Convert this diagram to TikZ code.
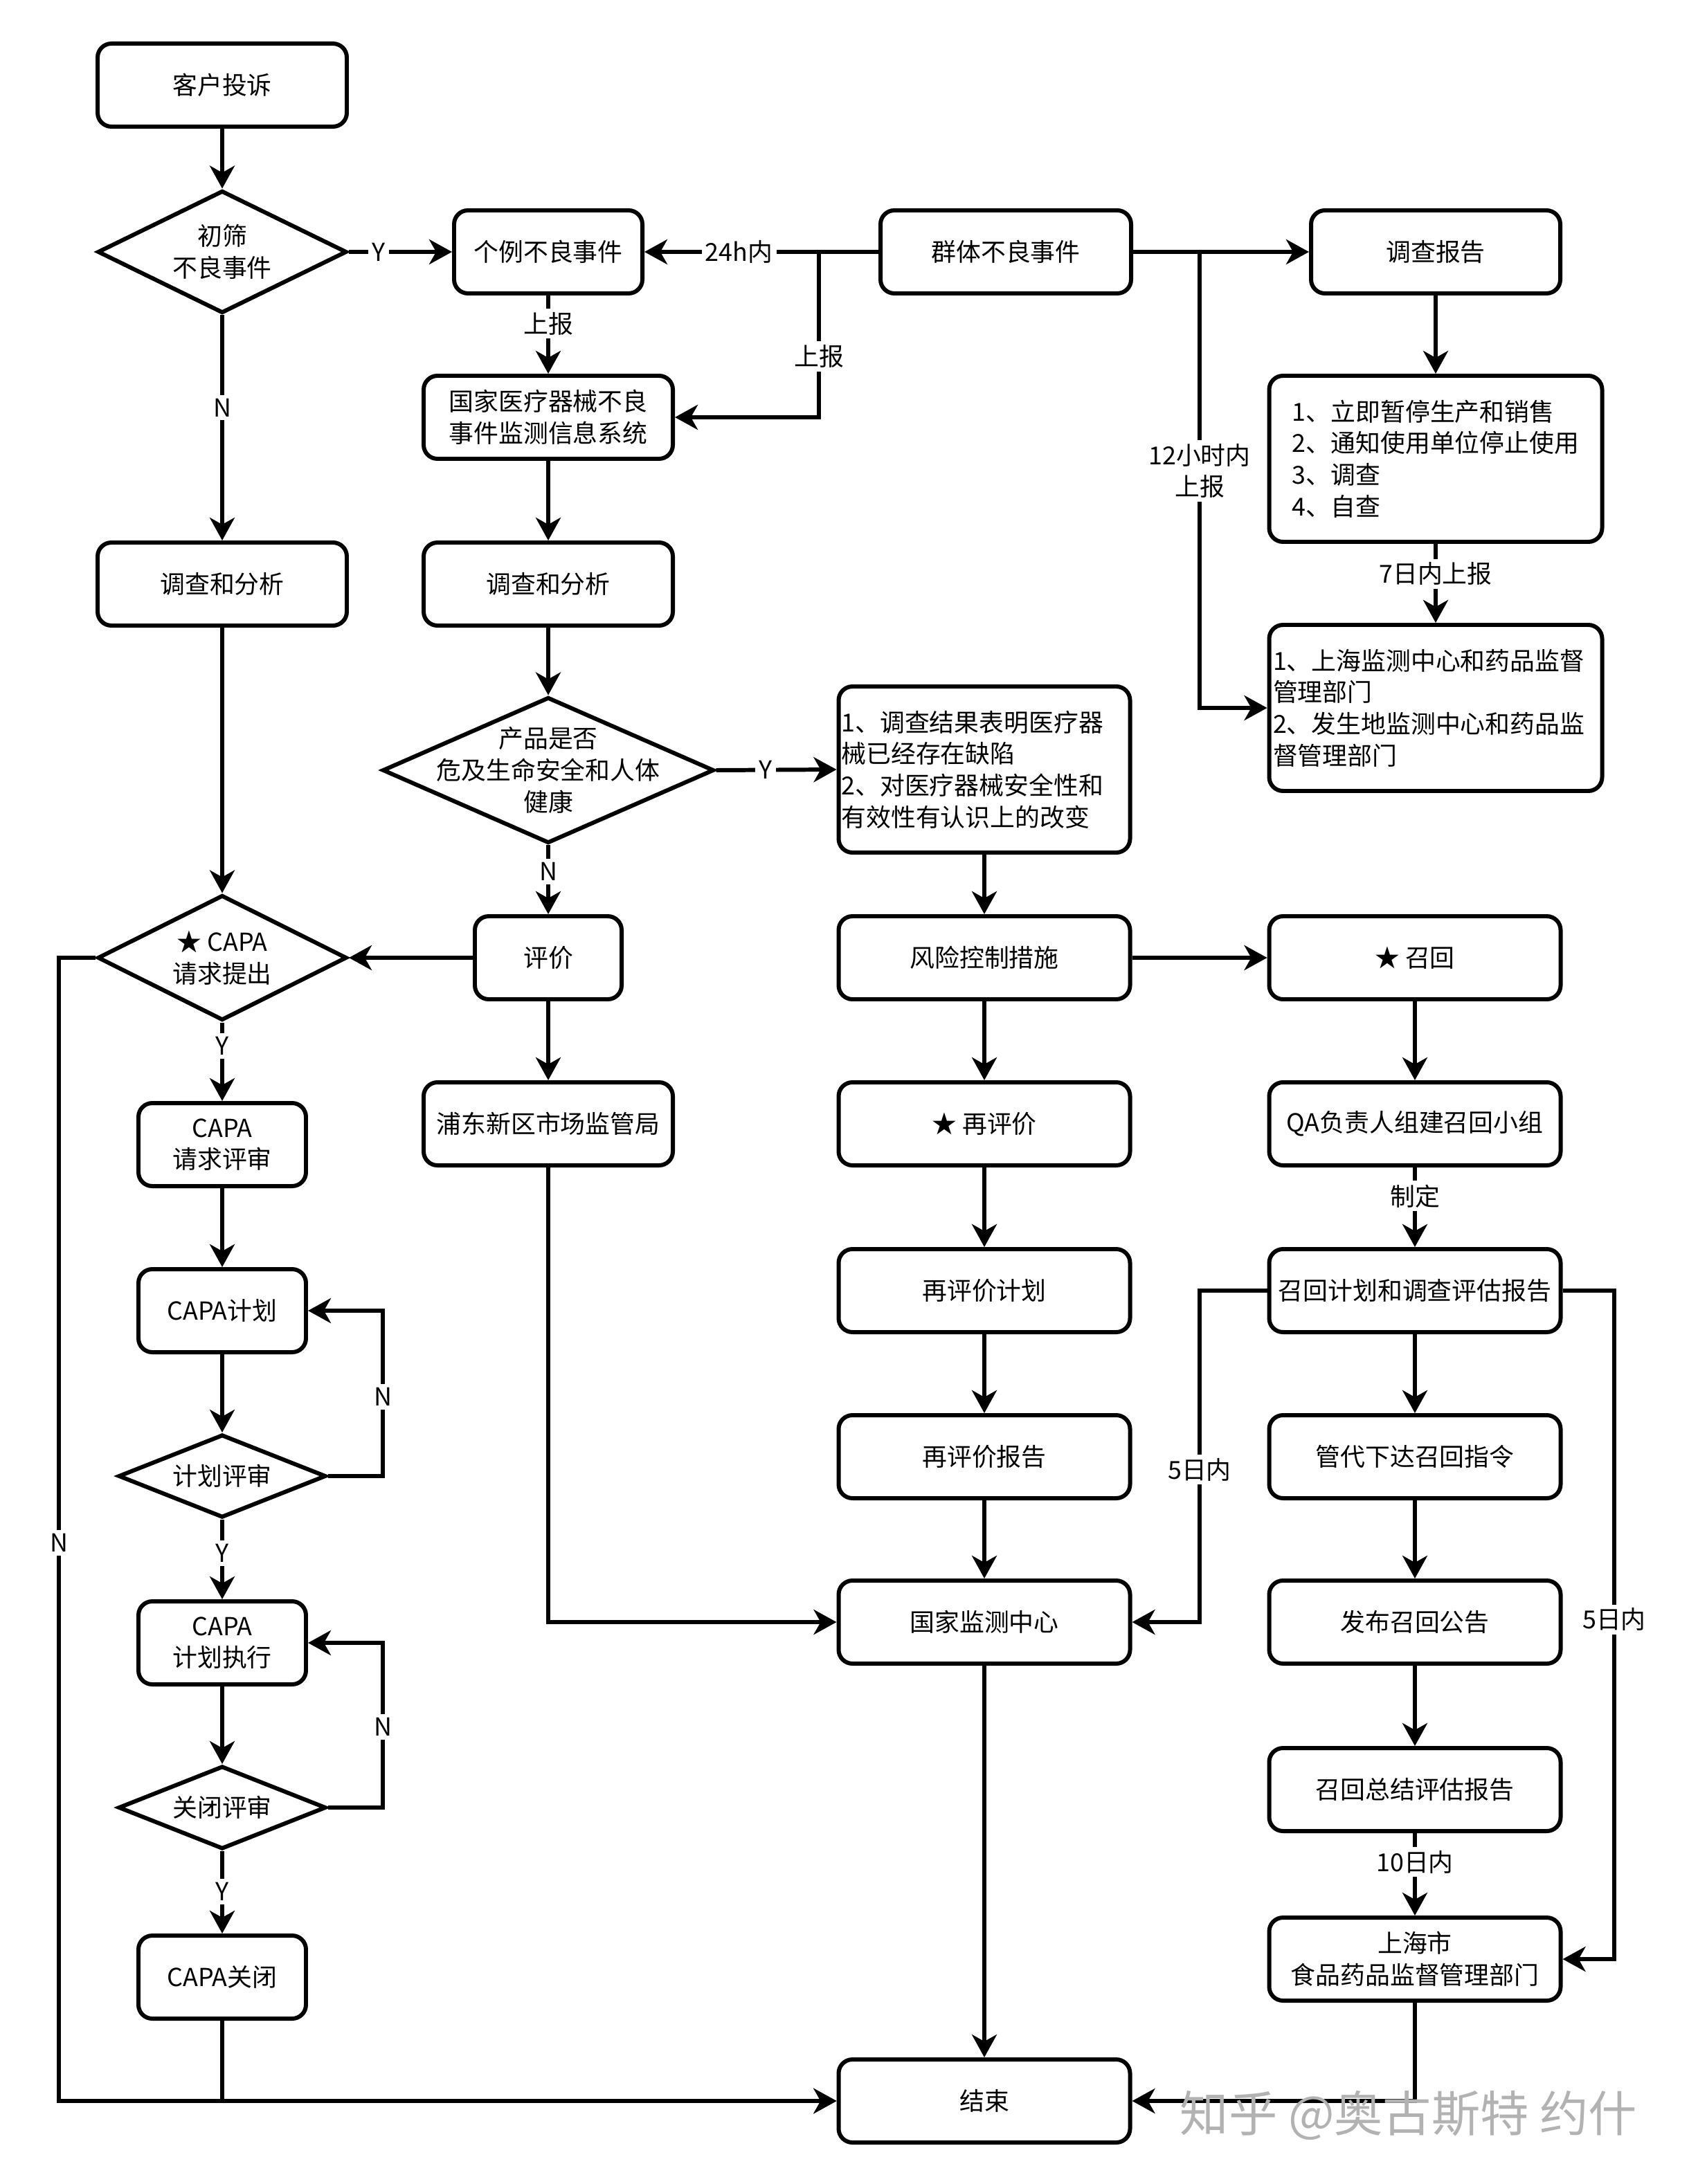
\documentclass[tikz,border=0pt]{standalone}
\usepackage{fontspec}
\setmainfont{Noto Sans CJK SC}
\usetikzlibrary{shapes.geometric, positioning, arrows.meta, calc}

\begin{document}
\begin{tikzpicture}[font=\fontsize{10.2}{13}\selectfont]
  \newcommand\colA{3.21}
  \newcommand\colB{7.92}
  \newcommand\colC{14.22}
  \newcommand\colD{20.44}

  \tikzset{flowbox/.style={draw, line width=1.7pt, rounded corners=0.2cm, minimum width=3.6cm, minimum height=1.2cm, align=center, inner sep=2pt}}
  \tikzset{widebox/.style={flowbox, minimum width=4.21cm}}
  \tikzset{smallbox/.style={flowbox, minimum width=2.42cm}}
  \tikzset{decision/.style={draw, diamond, line width=1.7pt, inner sep=0pt}}
  \tikzset{flow/.style={-{Stealth[length=3.3mm, width=3.6mm, inset=1mm]}, line width=1.7pt}}
  \tikzset{edgelbl/.style={fill=white, inner sep=1.5pt, align=center}}

  \useasboundingbox (0, 0) rectangle (24.39, -31.56);

  % complaint / CAPA column
  \node[flowbox] at (\colA, -1.23) (complain) {客户投诉};
  \node[decision, minimum width=3.6cm, minimum height=1.77cm, label={[align=center]center:{初筛\\不良事件}}] at (\colA, -3.64) (screen) {};
  \node[flowbox] at (\colA, -8.44) (anaL) {调查和分析};
  \node[decision, minimum width=3.6cm, minimum height=1.81cm, label={[align=center]center:{★ CAPA\\请求提出}}] at (\colA, -13.84) (capareq) {};
  \node[smallbox] at (\colA, -16.54) (capareview) {CAPA\\请求评审};
  \node[smallbox] at (\colA, -18.94) (capaplan) {CAPA计划};
  \node[decision, minimum width=3.0cm, minimum height=1.2cm, label=center:计划评审] at (\colA, -21.33) (planrev) {};
  \node[smallbox] at (\colA, -23.74) (capaexec) {CAPA\\计划执行};
  \node[decision, minimum width=3.0cm, minimum height=1.2cm, label=center:关闭评审] at (\colA, -26.12) (closerev) {};
  \node[smallbox] at (\colA, -28.57) (capaclose) {CAPA关闭};

  % single event column
  \node[flowbox, minimum width=2.72cm] at (\colB, -3.64) (single) {个例不良事件};
  \node[flowbox] at (\colB, -6.03) (nmis) {国家医疗器械不良\\事件监测信息系统};
  \node[flowbox] at (\colB, -8.44) (anaM) {调查和分析};
  \node[decision, minimum width=4.79cm, minimum height=2.11cm, label={[align=center]center:{产品是否\\危及生命安全和人体\\健康}}] at (\colB, -11.13) (harm) {};
  \node[flowbox, minimum width=2.12cm] at (\colB, -13.84) (eval) {评价};
  \node[flowbox] at (\colB, -16.24) (pudong) {浦东新区市场监管局};

  % group event / re-evaluation column
  \node[flowbox, minimum width=3.62cm] at (14.53, -3.64) (group) {群体不良事件};
  \node[widebox, minimum height=2.4cm, text width=4.13cm, align=left, inner sep=1pt] at (\colC, -11.12) (finding) {1、调查结果表明医疗器\\械已经存在缺陷\\2、对医疗器械安全性和\\有效性有认识上的改变};
  \node[widebox] at (\colC, -13.84) (risk) {风险控制措施};
  \foreach \name/\y/\txt in {reeval/-16.24/{★ 再评价}, replan/-18.65/再评价计划, rereport/-21.05/再评价报告, center/-23.44/国家监测中心, finish/-30.36/结束}{
    \node[widebox] at (\colC, \y) (\name) {\txt};
  }

  % recall column
  \node[flowbox] at (20.74, -3.64) (invreport) {调查报告};
  \node[flowbox, minimum width=4.81cm, minimum height=2.4cm, align=left] at (20.74, -6.63) (actions) {1、立即暂停生产和销售\\2、通知使用单位停止使用\\3、调查\\4、自查};
  \node[flowbox, minimum width=4.81cm, minimum height=2.4cm, text width=4.7cm, align=left, inner sep=1pt] at (20.74, -10.23) (notify) {1、上海监测中心和药品监督\\管理部门\\2、发生地监测中心和药品监\\督管理部门};
  \foreach \name/\y/\txt in {recall/-13.84/{★ 召回}, team/-16.24/QA负责人组建召回小组, rplan/-18.65/召回计划和调查评估报告, order/-21.05/管代下达召回指令, announce/-23.44/发布召回公告, summary/-25.86/召回总结评估报告, shfda/-28.31/{上海市\\食品药品监督管理部门}}{
    \node[widebox] at (\colD, \y) (\name) {\txt};
  }

  % plain arrows
  \foreach \a/\b in {complain/screen, anaL/capareq, capareview/capaplan, capaplan/planrev, capaexec/closerev, nmis/anaM, anaM/harm, eval/pudong, finding/risk, risk/reeval, reeval/replan, replan/rereport, rereport/center, center/finish, group/invreport, invreport/actions, risk/recall, recall/team, rplan/order, order/announce, announce/summary}{
    \draw[flow] (\a) -- (\b);
  }
  \draw[flow] (eval.west) -- (capareq.east);
  \draw[flow] (pudong) |- (center);
  \draw[flow] (capaclose) |- (finish.west);
  \draw[flow] (shfda) |- (finish.east);

  % labelled arrows
  \draw[flow] (screen.east) -- node[edgelbl, pos=0.29] {Y} (single.west);
  \draw[flow] (screen) -- node[edgelbl, pos=0.41] {N} (anaL);
  \draw[flow] (group) -- node[edgelbl, pos=0.596] {24h内} (single);
  \coordinate (fork24) at (11.83, -3.64);
  \draw[flow] (fork24) |- node[edgelbl, pos=0.316] {上报} (nmis.east);
  \draw[flow] (single) -- node[edgelbl, pos=0.36] {上报} (nmis);
  \coordinate (fork12) at (17.33, -3.64);
  \draw[flow] (fork12) |- node[edgelbl, pos=0.24] {12小时内\\上报} (notify.west);
  \draw[flow] (actions) -- node[edgelbl, pos=0.38] {7日内上报} (notify);
  \draw[flow] (harm.east) -- node[edgelbl, pos=0.41] {Y} (finding.west);
  \draw[flow] (harm) -- node[edgelbl, pos=0.38] {N} (eval);
  \draw[flow] (capareq) -- node[edgelbl, pos=0.30] {Y} (capareview);
  \coordinate (nloop) at (0.85, -13.84);
  \draw[flow] (capareq.west) -- (nloop) |- node[edgelbl, pos=0.256] {N} (finish.west);
  \coordinate (planloop) at (5.53, -21.33);
  \draw[flow] (planrev.east) -- (planloop) |- node[edgelbl, pos=0.24] {N} (capaplan.east);
  \draw[flow] (planrev) -- node[edgelbl, pos=0.42] {Y} (capaexec);
  \coordinate (closeloop) at (5.53, -26.12);
  \draw[flow] (closerev.east) -- (closeloop) |- node[edgelbl, pos=0.245] {N} (capaexec.east);
  \draw[flow] (closerev) -- node[edgelbl, pos=0.49] {Y} (capaclose);
  \draw[flow] (team) -- node[edgelbl, pos=0.36] {制定} (rplan);
  \coordinate (fiveL) at (17.33, -18.65);
  \draw[flow] (rplan.west) -- (fiveL) |- node[edgelbl, pos=0.27] {5日内} (center.east);
  \coordinate (fiveR) at (23.32, -18.65);
  \draw[flow] (rplan.east) -- (fiveR) |- node[edgelbl, pos=0.246] {5日内} (shfda.east);
  \draw[flow] (summary) -- node[edgelbl, pos=0.35] {10日内} (shfda);

  \node[text=black!30, font=\fontsize{20}{20}\selectfont] at (20.35, -30.57) (mark) {知乎 @奥古斯特 约什};
\end{tikzpicture}
\end{document}
